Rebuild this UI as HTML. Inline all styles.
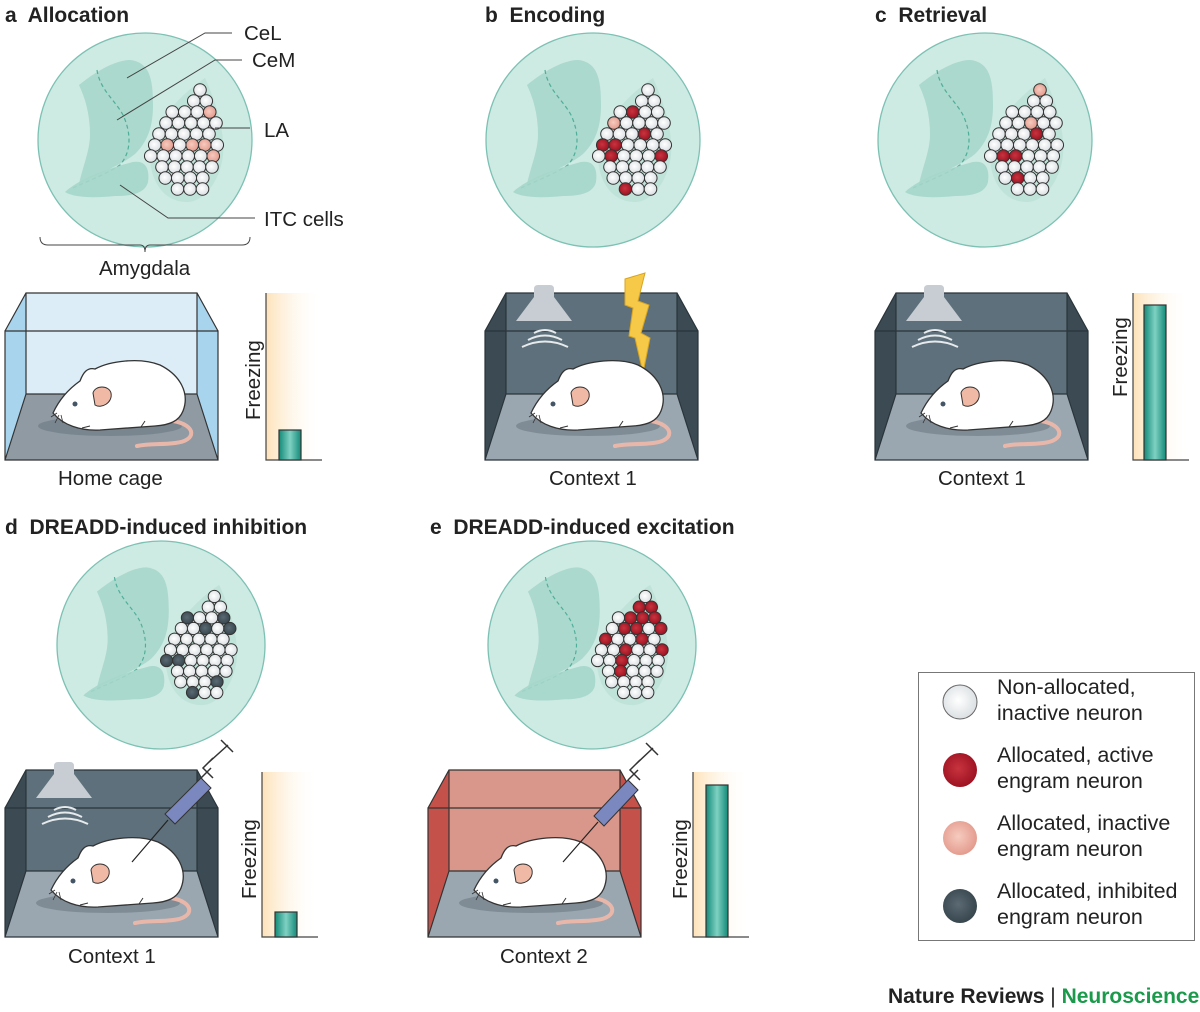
<!DOCTYPE html>
<html><head><meta charset="utf-8">
<style>
body{margin:0;background:#fff;}
svg{display:block;font-family:"Liberation Sans",sans-serif;}
.t{font-size:20.5px;fill:#222;}
.l{font-size:21.5px;fill:#222;}
.h{font-size:21px;font-weight:bold;fill:#222;}
</style></head>
<body>
<svg id="s" width="1200" height="1012" viewBox="0 0 1200 1012" xmlns="http://www.w3.org/2000/svg">
<defs>
<radialGradient id="gw" cx="0.45" cy="0.45" r="0.6"><stop offset="0" stop-color="#ffffff"/><stop offset="1" stop-color="#d8dde0"/></radialGradient>
<radialGradient id="gr" cx="0.45" cy="0.45" r="0.6"><stop offset="0" stop-color="#c8343f"/><stop offset="1" stop-color="#9a0f1f"/></radialGradient>
<radialGradient id="gp" cx="0.45" cy="0.45" r="0.6"><stop offset="0" stop-color="#f6cbbf"/><stop offset="1" stop-color="#e2988a"/></radialGradient>
<radialGradient id="gd" cx="0.45" cy="0.45" r="0.6"><stop offset="0" stop-color="#5b6a73"/><stop offset="1" stop-color="#35434b"/></radialGradient>
<linearGradient id="bar" x1="0" x2="1"><stop offset="0" stop-color="#138a78"/><stop offset="0.5" stop-color="#7fd1c3"/><stop offset="1" stop-color="#138a78"/></linearGradient>
<linearGradient id="fz" x1="0" x2="1"><stop offset="0" stop-color="#fde2b8"/><stop offset="1" stop-color="#fff" stop-opacity="0"/></linearGradient>
<g id="amy">
<path d="M-66,-55 C-50,-68 -30,-80 -15,-80 C5,-78 8,-60 8,-35 C8,-12 2,2 -10,14 C-25,26 -48,34 -66,44 C-62,26 -55,10 -55,-5 C-55,-22 -58,-38 -66,-55 Z" fill="#a5d6c9" opacity="0.85"/>
<path d="M-48,-70 C-45,-50 -30,-40 -22,-25 C-15,-10 -12,10 -25,25 C-40,35 -60,42 -72,48" fill="none" stroke="#4fae99" stroke-width="1.2" stroke-dasharray="4,3"/>
<path d="M-80,52 C-65,38 -35,28 -12,22 C0,20 5,28 3,42 C0,54 -15,56 -30,56 C-50,58 -70,58 -80,52 Z" fill="#a5d6c9" opacity="0.9"/>
<path d="M60,-62 C70,-40 80,-10 78,15 C75,42 58,62 42,62 C18,62 5,40 5,15 C5,-10 28,-40 60,-62 Z" fill="#bfe3d8"/>
</g>
<g id="mouse">
<ellipse cx="105" cy="133" rx="72" ry="10" fill="#6a7780" opacity="0.55"/>
<path d="M168,128 C192,132 192,148 170,150 C155,152 145,150 132,153" fill="none" stroke="#e9b7aa" stroke-width="4" stroke-linecap="round"/>
<path d="M48,120 C55,105 65,95 75,88 C78,80 82,74 90,76 C105,68 135,64 155,72 C175,82 185,100 178,118 C174,128 165,132 150,133 L95,137 C75,138 58,132 48,120 Z" fill="#fff" stroke="#333" stroke-width="1.3"/>
<path d="M88,100 C90,92 104,92 106,100 C108,110 96,116 90,112 Z" fill="#f0b9a6" stroke="#333" stroke-width="1"/>
<circle cx="70" cy="111" r="2.5" fill="#456"/>
<path d="M52,120 l-6,4 M54,122 l-4,8 M56,122 l2,8" stroke="#333" stroke-width="0.8"/>
<path d="M85,133 l-8,2 M140,128 l-4,6" stroke="#333" stroke-width="1"/>
</g>
<g id="lamp">
<path d="M22,0 h12 q4,0 4,4 v8 l18,24 h-56 l18,-24 v-8 q0,-4 4,-4 z" fill="#c7cdd2"/>
<path d="M18,48 q11,-6 22,0 M12,55 q17,-9 34,0 M6,62 q23,-11 46,0" fill="none" stroke="#e6eaec" stroke-width="2"/>
</g>
<path id="outline" d="M0,38 L21,0 H192 L213,38 M21,0 V101 M192,0 V101 M0,38 H213 V167 H0 Z M21,101 H192 M0,167 L21,101 M213,167 L192,101" fill="none" stroke-width="1.2"/>
</defs>

<g stroke="#7cc1b3" stroke-width="1.3" fill="#cdeae3">
<circle cx="145" cy="140" r="107"/>
<circle cx="593" cy="140" r="107"/>
<circle cx="985" cy="140" r="107"/>
<circle cx="161" cy="645" r="104"/>
<circle cx="592" cy="645" r="104"/>
</g>
<use href="#amy" transform="translate(145,140)"/>
<use href="#amy" transform="translate(593,140)"/>
<use href="#amy" transform="translate(985,140)"/>
<use href="#amy" transform="translate(161,645) scale(0.97)"/>
<use href="#amy" transform="translate(592,645) scale(0.97)"/>
<g id="cells"></g>

<text class="h" x="5" y="22">a&#160; Allocation</text>
<g stroke="#444" stroke-width="1" fill="none">
<path d="M127,78 L205,33 H232"/><path d="M117,120 L215,60 H242"/>
<path d="M215,128 H250"/><path d="M120,185 L168,218 H255"/>
<path d="M40,237 q0,8 8,8 h92 q5,0 5,7 q0,-7 5,-7 h92 q8,0 8,-8"/>
</g>
<text class="t" x="244" y="40">CeL</text><text class="t" x="252" y="67">CeM</text>
<text class="t" x="264" y="137">LA</text><text class="t" x="264" y="226">ITC cells</text>
<text class="t" x="99" y="275">Amygdala</text>

<text class="h" x="485" y="22">b&#160; Encoding</text>
<text class="h" x="875" y="22">c&#160; Retrieval</text>
<text class="h" x="5" y="534">d&#160; DREADD-induced inhibition</text>
<text class="h" x="430" y="534">e&#160; DREADD-induced excitation</text>

<g transform="translate(5,293)">
<rect x="21" y="0" width="171" height="101" fill="#dcedf7"/>
<path d="M0,38 L21,0 V101 L0,167Z M213,38 L192,0 V101 L213,167Z" fill="#a9d4ee"/>
<path d="M21,101 H192 L213,167 H0Z" fill="#8f9aa3"/>
<use href="#outline" stroke="#333"/>
<use href="#mouse"/>
</g>
<g transform="translate(485,293)">
<rect x="21" y="0" width="171" height="101" fill="#5e707b"/>
<path d="M0,38 L21,0 V101 L0,167Z M213,38 L192,0 V101 L213,167Z" fill="#3b4a53"/>
<path d="M21,101 H192 L213,167 H0Z" fill="#9aa7b0"/>
<use href="#outline" stroke="#2a343a"/>
<use href="#lamp" transform="translate(31,-8)"/>
<path d="M140,-14 L160,-20 L153,8 L164,12 L156,40 L165,45 L158,80 L150,45 L144,43 L148,15 L140,12 Z" fill="#f7c948" stroke="#d9a520" stroke-width="1"/>
<use href="#mouse" transform="translate(-2,0)"/>
</g>
<g transform="translate(875,293)">
<rect x="21" y="0" width="171" height="101" fill="#5e707b"/>
<path d="M0,38 L21,0 V101 L0,167Z M213,38 L192,0 V101 L213,167Z" fill="#3b4a53"/>
<path d="M21,101 H192 L213,167 H0Z" fill="#9aa7b0"/>
<use href="#outline" stroke="#2a343a"/>
<use href="#lamp" transform="translate(31,-8)"/>
<use href="#mouse" transform="translate(-2,0)"/>
</g>
<g transform="translate(5,770)">
<rect x="21" y="0" width="171" height="101" fill="#5e707b"/>
<path d="M0,38 L21,0 V101 L0,167Z M213,38 L192,0 V101 L213,167Z" fill="#3b4a53"/>
<path d="M21,101 H192 L213,167 H0Z" fill="#9aa7b0"/>
<use href="#outline" stroke="#2a343a"/>
<use href="#lamp" transform="translate(31,-8)"/>
<use href="#mouse" transform="translate(-2,0)"/>
<path d="M127,92 L163,50" stroke="#222" stroke-width="1.2"/>
<path d="M160,44 L196,8 L206,18 L170,54 Z" fill="#7b88c0" stroke="#333"/>
<path d="M196,8 L206,-2 M208,-12 L198,-2 L208,8 M203,-7 L223,-25 M216,-30 L228,-18" stroke="#333" stroke-width="1.5" fill="none"/>
</g>
<g transform="translate(428,770)">
<rect x="21" y="0" width="171" height="101" fill="#d9968a"/>
<path d="M0,38 L21,0 V101 L0,167Z M213,38 L192,0 V101 L213,167Z" fill="#c4524a"/>
<path d="M21,101 H192 L213,167 H0Z" fill="#9aa7b0"/>
<use href="#outline" stroke="#333"/>
<use href="#mouse" transform="translate(-2,0)"/>
<path d="M135,92 L170,52" stroke="#222" stroke-width="1.2"/>
<path d="M166,46 L200,10 L210,20 L176,56 Z" fill="#7b88c0" stroke="#333"/>
<path d="M200,10 L210,0 M212,-10 L202,0 L212,10 M207,-5 L225,-22 M218,-27 L230,-15" stroke="#333" stroke-width="1.5" fill="none"/>
</g>

<g stroke="#444" stroke-width="1.2">
<rect x="266" y="293" width="56" height="167" fill="url(#fz)" stroke="none"/>
<path d="M266,293 V460 H322" fill="none"/>
<rect x="279" y="430" width="22" height="30" fill="url(#bar)" stroke="#333"/>
<rect x="1133" y="293" width="56" height="167" fill="url(#fz)" stroke="none"/>
<path d="M1133,293 V460 H1189" fill="none"/>
<rect x="1144" y="305" width="22" height="155" fill="url(#bar)" stroke="#333"/>
<rect x="262" y="772" width="56" height="165" fill="url(#fz)" stroke="none"/>
<path d="M262,772 V937 H318" fill="none"/>
<rect x="275" y="912" width="22" height="25" fill="url(#bar)" stroke="#333"/>
<rect x="693" y="772" width="56" height="165" fill="url(#fz)" stroke="none"/>
<path d="M693,772 V937 H749" fill="none"/>
<rect x="706" y="785" width="22" height="152" fill="url(#bar)" stroke="#333"/>
</g>
<text class="t" transform="translate(260,420) rotate(-90)">Freezing</text>
<text class="t" transform="translate(1127,397) rotate(-90)">Freezing</text>
<text class="t" transform="translate(256,899) rotate(-90)">Freezing</text>
<text class="t" transform="translate(687,899) rotate(-90)">Freezing</text>

<text class="t" x="58" y="485">Home cage</text>
<text class="t" x="549" y="485">Context 1</text>
<text class="t" x="938" y="485">Context 1</text>
<text class="t" x="68" y="963">Context 1</text>
<text class="t" x="500" y="963">Context 2</text>

<rect x="918.5" y="672.5" width="276" height="268" fill="#fff" stroke="#777"/>
<circle cx="960" cy="702" r="17" fill="url(#gw)" stroke="#666"/>
<circle cx="960" cy="770" r="17" fill="url(#gr)"/>
<circle cx="960" cy="838" r="17" fill="url(#gp)"/>
<circle cx="960" cy="906" r="17" fill="url(#gd)"/>
<text class="l" x="997" y="694">Non-allocated,</text><text class="l" x="997" y="720">inactive neuron</text>
<text class="l" x="997" y="762">Allocated, active</text><text class="l" x="997" y="788">engram neuron</text>
<text class="l" x="997" y="830">Allocated, inactive</text><text class="l" x="997" y="856">engram neuron</text>
<text class="l" x="997" y="898">Allocated, inhibited</text><text class="l" x="997" y="924">engram neuron</text>
<text x="888" y="1003" style="font-size:21px;font-weight:bold;fill:#222">Nature Reviews <tspan style="font-weight:normal">|</tspan> <tspan fill="#1a9a4a">Neuroscience</tspan></text>
</svg>
<script>
(function(){
var g=document.getElementById('cells');var ns='http://www.w3.org/2000/svg';
var panels=[[145,140,1,'p'],[593,140,1,'rp'],[985,140,1,'rp'],[161,645,0.97,'d'],[592,645,0.97,'r']];
var ys=[-50,-39,-28,-17,-6,5,16,27,38,49];
var cxs=[57,53,48,44,41,39,39,40,41,43];
var hw=[2,9,16,22,27,30,30,27,21,11];
var pts=[];
for(var r=0;r<ys.length;r++){var n=Math.max(1,Math.round(2*hw[r]/12.5)+1);
 var st=cxs[r]-(n-1)*12.5/2;
 for(var k=0;k<n;k++)pts.push([st+k*12.5+((r%2)?2:-2),ys[r]]);}
function rnd(a){var x=Math.sin(a*12.9898+78.233)*43758.5453;return x-Math.floor(x);}
panels.forEach(function(p,pi){
 pts.forEach(function(q,i){
  var c='url(#gw)',h=rnd(i*7.1+pi*31.7);
  if(p[3]=='p'&&h<0.15)c='url(#gp)';
  if(p[3]=='rp'){if(h<0.15)c='url(#gr)';else if(h<0.21)c='url(#gp)';}
  if(p[3]=='d'&&h<0.15)c='url(#gd)';
  if(p[3]=='r'&&h<0.15)c='url(#gr)';
  var e=document.createElementNS(ns,'circle');
  e.setAttribute('cx',p[0]+q[0]*p[2]);e.setAttribute('cy',p[1]+q[1]*p[2]);
  e.setAttribute('r',6.3*p[2]);e.setAttribute('fill',c);e.setAttribute('stroke','#333');e.setAttribute('stroke-width','1');
  g.appendChild(e);});
});})();
</script>
</body></html>
